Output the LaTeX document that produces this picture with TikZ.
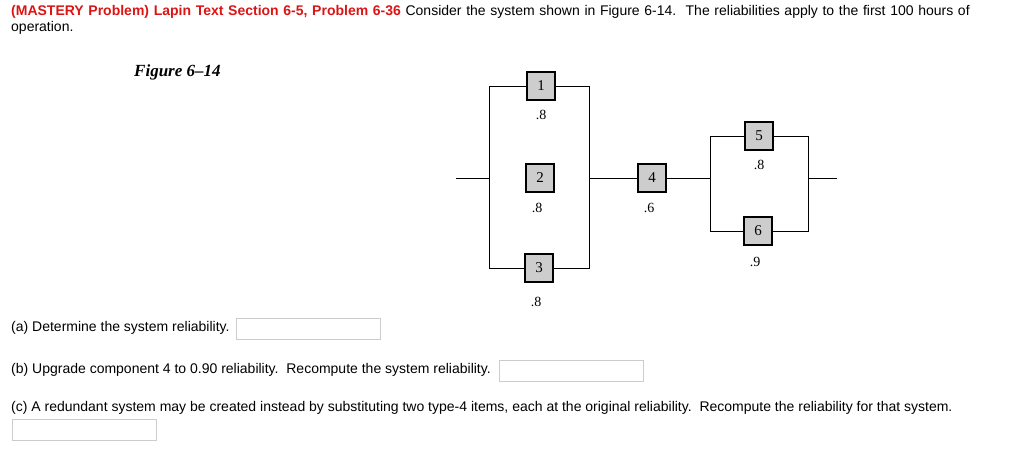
\documentclass[tikz,border=0pt]{standalone}
\usepackage{fontspec}
\setmainfont{Liberation Sans}
\newfontfamily\figfont{Liberation Serif}
\usetikzlibrary{positioning}
\definecolor{mastred}{RGB}{220,20,20}
\definecolor{compgray}{RGB}{205,205,205}
\tikzset{
  comp/.style = {rectangle, draw, line width=1.6pt, fill=compgray,
                 minimum size=28pt, inner sep=0pt, font=\figfont\fontsize{15}{15}\selectfont},
  rel/.style  = {font=\figfont\fontsize{14}{14}\selectfont, inner sep=1pt},
  wire/.style = {line width=1pt},
  ansbox/.style = {draw=gray!40, minimum width=144pt, minimum height=21pt, anchor=north west, inner sep=0pt},
  txt/.style  = {anchor=west, inner sep=0pt, font=\fontsize{14}{16}\selectfont}
}
\begin{document}
\begin{tikzpicture}[x=1pt,y=-1pt]
  \useasboundingbox (0,0) rectangle (1024,453);

  % header
  \node[txt, anchor=north west, text width=1000pt, align=left] (head) at (11,5)
    {\hyphenpenalty=10000 \textcolor{mastred}{\bfseries (MASTERY Problem) Lapin Text Section 6-5, Problem 6-36}
     Consider the system shown in Figure 6-14.\ \ The reliabilities apply to the first 100 hours of\\operation.};
  \node[anchor=west, inner sep=0pt, font=\figfont\fontsize{17}{17}\selectfont\bfseries\itshape] (fig) at (134,72) {Figure 6–14};

  % components
  \node[comp] (c1) at (541,86)  {1};
  \node[comp] (c2) at (540,178) {2};
  \node[comp] (c3) at (539,268) {3};
  \node[comp] (c4) at (652,178) {4};
  \node[comp] (c5) at (759,136) {5};
  \node[comp] (c6) at (758,231) {6};
  \node[rel] (r1) at (541,115) {.8};
  \node[rel] (r2) at (537,208) {.8};
  \node[rel] (r3) at (536,302) {.8};
  \node[rel] (r4) at (649,208) {.6};
  \node[rel] (r5) at (759,165) {.8};
  \node[rel] (r6) at (755,262) {.9};

  % rails
  \coordinate (in)  at (456,178);
  \coordinate (la)  at (489,178);
  \coordinate (ra)  at (589,178);
  \coordinate (lb)  at (710,178);
  \coordinate (rb)  at (808,178);
  \coordinate (out) at (837,178);
  \draw[wire] (in) -- (la);
  \draw[wire] (c1.west) -| (la |- c3.west) -- (c3.west);
  \draw[wire] (c1.east) -| (ra |- c3.east) -- (c3.east);
  \draw[wire] (ra) -- (c4.west);
  \draw[wire] (c4.east) -- (lb);
  \draw[wire] (c5.west) -| (lb |- c6.west) -- (c6.west);
  \draw[wire] (c5.east) -| (rb |- c6.east) -- (c6.east);
  \draw[wire] (rb) -- (out);

  % questions
  \node[txt] (qa) at (11,328) {(a) Determine the system reliability.};
  \node[ansbox] (aa) at (236,318) {};
  \node[txt] (qb) at (11,370) {(b) Upgrade component 4 to 0.90 reliability.\ \ Recompute the system reliability.};
  \node[ansbox] (ab) at (499,360) {};
  \node[txt] (qc) at (11,408) {(c) A redundant system may be created instead by substituting two type-4 items, each at the original reliability.\ \ Recompute the reliability for that system.};
  \node[ansbox] (ac) at (12,419) {};
\end{tikzpicture}
\end{document}
